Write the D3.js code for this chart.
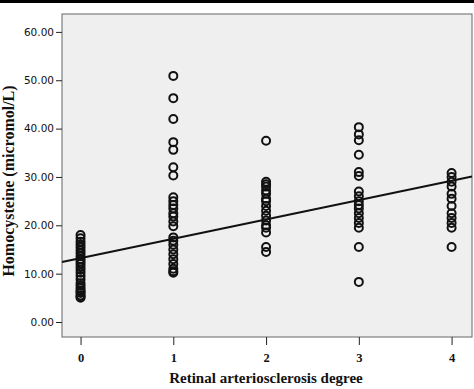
<!DOCTYPE html>
<html>
<head>
<script src="https://cdn.jsdelivr.net/npm/d3@7"></script>
<style>
  body { margin: 0; background: #fff; }
  text { font-family: "Liberation Serif", "DejaVu Serif", serif; font-weight: bold; fill: #111; }
</style>
</head>
<body>
<div id="viz"></div>
<script>
// retinal arteriosclerosis degree groups and homocysteine values
var degrees = [0, 1, 2, 3, 4];
var yTicks = [0, 10, 20, 30, 40, 50, 60];
var hcy0 = [18.0, 17.3, 16.6, 16.0, 15.4, 14.8, 14.2, 13.6, 13.0, 12.5, 12.0, 11.4, 10.8, 10.2, 9.5, 8.8, 8.0, 7.5, 7.0, 6.5, 6.0, 5.5, 5.0, 5.3, 6.2];
var hcy1 = [50.9, 46.3, 42.0, 37.2, 35.6, 32.0, 30.3, 25.8, 25.0, 24.2, 23.5, 22.5, 21.8, 20.8, 19.8, 17.5, 16.8, 16.0, 15.0, 14.0, 13.0, 12.0, 11.0, 10.5, 10.2];
var hcy2 = [37.5, 29.0, 28.5, 28.0, 27.2, 26.5, 25.5, 25.0, 24.0, 23.0, 22.0, 21.0, 20.0, 19.5, 18.5, 15.5, 14.5];
var hcy3 = [40.3, 38.8, 37.6, 34.6, 31.0, 30.2, 27.0, 26.0, 25.0, 24.2, 23.5, 22.5, 21.5, 20.5, 19.5, 15.5, 8.3];
var hcy4 = [30.8, 30.0, 29.0, 28.0, 26.5, 25.5, 24.0, 22.5, 21.5, 20.5, 19.5, 15.5];
var fitIntercept = 13.2, fitSlope = 4.0;

var W = 474, H = 389;
var svg = d3.select("#viz").append("svg").attr("width", W).attr("height", H);

svg.append("rect").attr("x", 0).attr("y", 0).attr("width", W).attr("height", 3).style("fill", "#000");

var pl = 62, pr = 472, pt = 14, pb = 337;
var x = d3.scaleLinear().domain([-0.2, 4.22]).range([pl, pr]);
var y = d3.scaleLinear().domain([-3.1, 63.7]).range([pb, pt]);

svg.append("rect")
  .attr("x", pl).attr("y", pt)
  .attr("width", pr - pl).attr("height", pb - pt)
  .style("fill", "#efefef").style("stroke", "#666").style("stroke-width", 1);

var yAxis = svg.append("g").attr("transform", "translate(" + pl + ",0)")
  .call(d3.axisLeft(y).tickValues(yTicks).tickSize(6).tickSizeOuter(0).tickFormat(d3.format(".2f")));
yAxis.select(".domain").remove();
yAxis.selectAll("line").style("stroke", "#222");
yAxis.selectAll("text")
  .style("font-family", "'DejaVu Sans', sans-serif").style("font-weight", "normal")
  .style("font-size", "10.5px").attr("x", -8);

var xAxis = svg.append("g").attr("transform", "translate(0," + pb + ")")
  .call(d3.axisBottom(x).tickValues(degrees).tickSize(8).tickSizeOuter(0).tickFormat(d3.format("d")));
xAxis.select(".domain").remove();
xAxis.selectAll("line").style("stroke", "#222");
xAxis.selectAll("text").style("font-size", "12.5px").attr("y", 16);

var groups = [hcy0, hcy1, hcy2, hcy3, hcy4];
var pts = [];
groups.forEach(function(g, i) {
  g.forEach(function(v) { pts.push({ d: degrees[i], v: v }); });
});

svg.append("g").selectAll("circle").data(pts).enter().append("circle")
  .attr("cx", function(d) { return x(d.d); })
  .attr("cy", function(d) { return y(d.v); })
  .attr("r", 4)
  .style("fill", "none").style("stroke", "#111").style("stroke-width", 2);

var x0 = x.domain()[0], x1 = x.domain()[1];
svg.append("line")
  .attr("x1", x(x0)).attr("y1", y(fitIntercept + fitSlope * x0))
  .attr("x2", x(x1)).attr("y2", y(fitIntercept + fitSlope * x1))
  .style("stroke", "#111").style("stroke-width", 2);

svg.append("text")
  .attr("transform", "translate(14,181) rotate(-90)")
  .style("text-anchor", "middle").style("font-size", "16px")
  .text("Homocysteine (micromol/L)");

svg.append("text")
  .attr("x", 266).attr("y", 383)
  .style("text-anchor", "middle").style("font-size", "15px")
  .text("Retinal arteriosclerosis degree");
</script>
</body>
</html>
